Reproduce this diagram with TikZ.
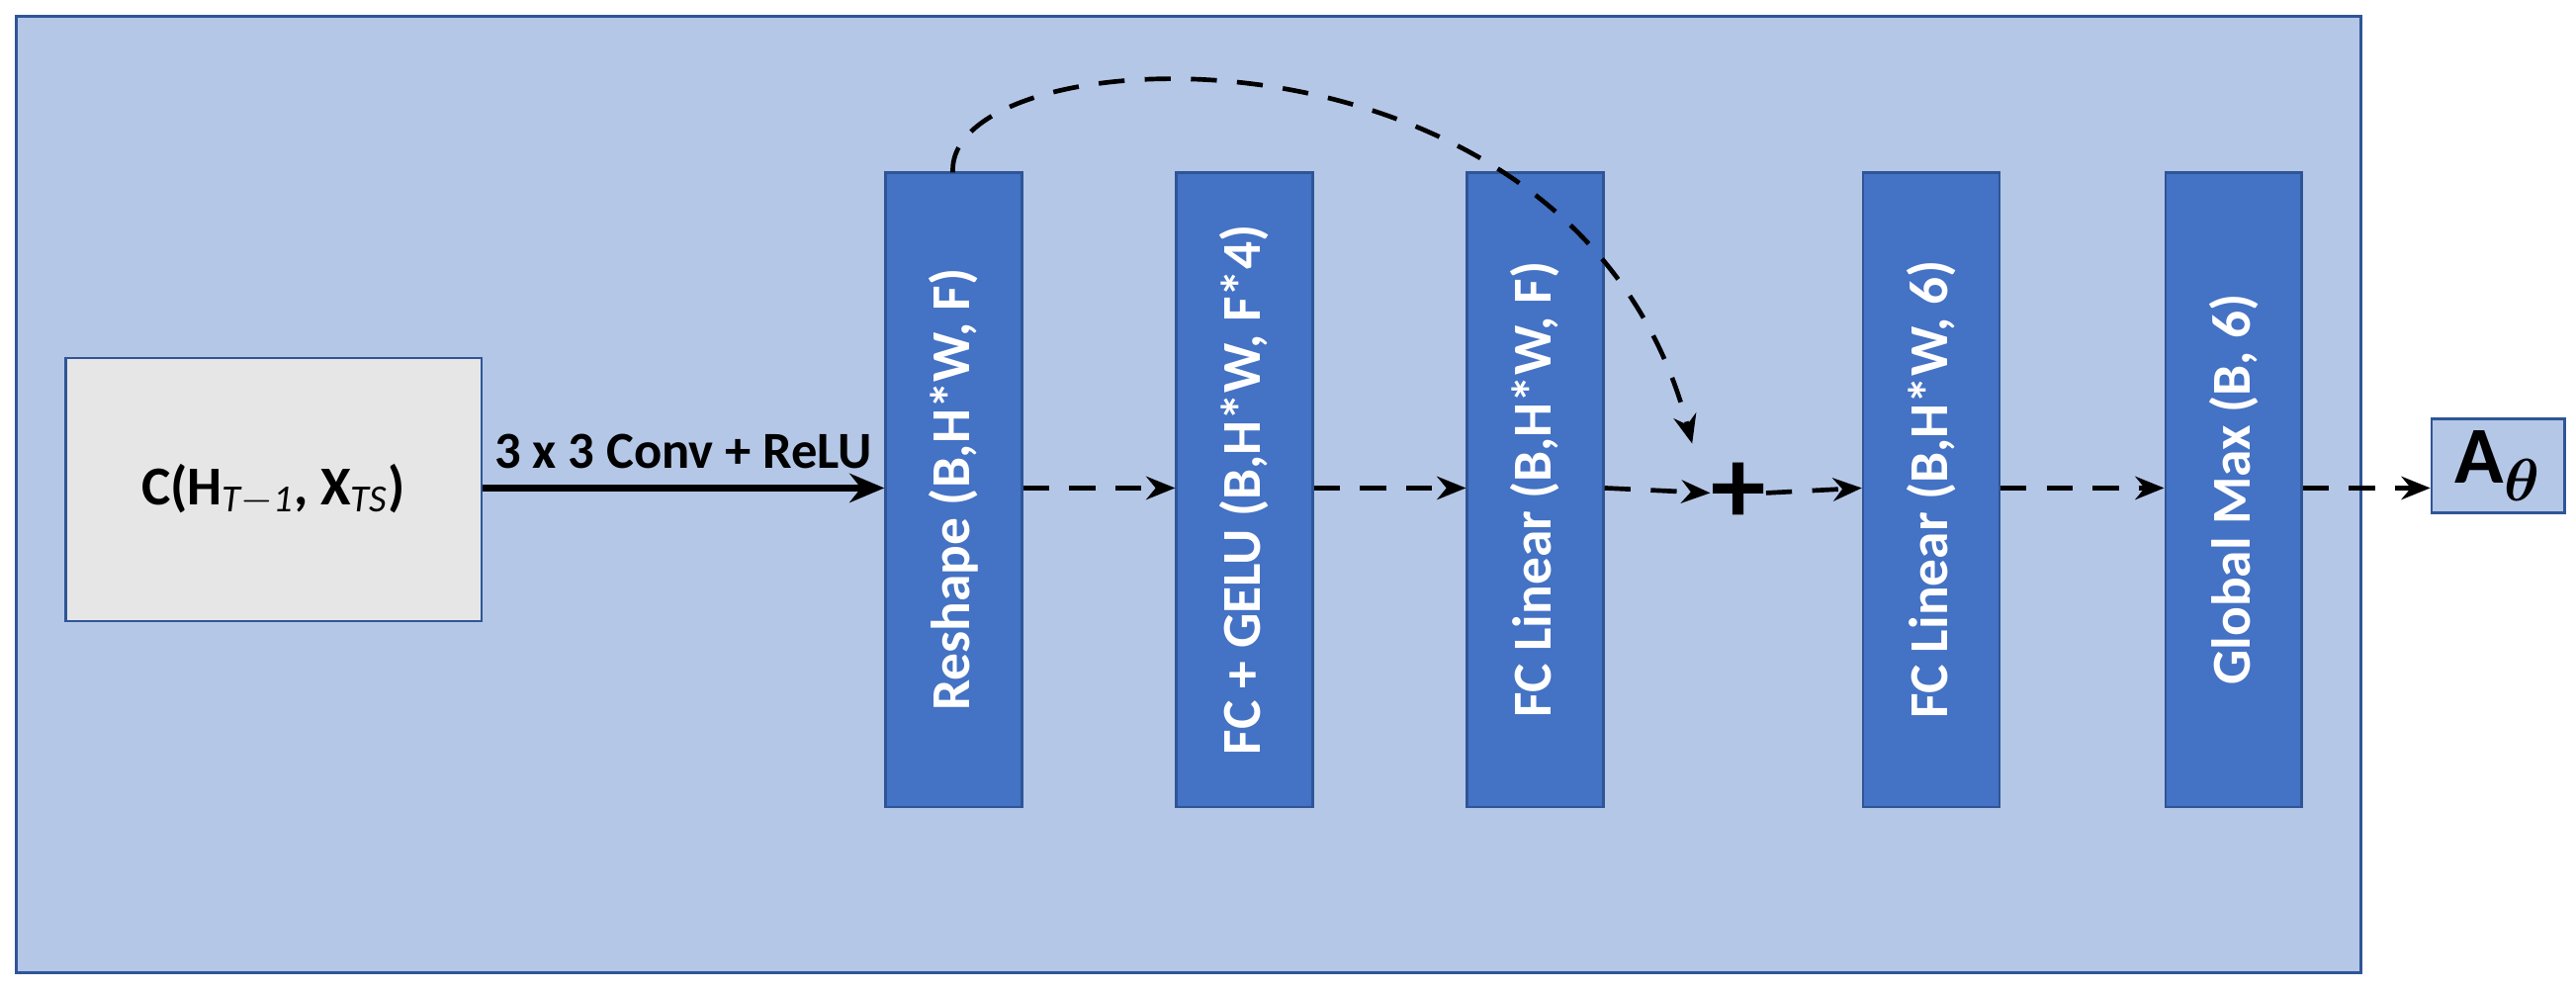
\documentclass[tikz,border=0pt]{standalone}
\usepackage{amsmath,bm}
\usepackage{fontspec}
\setmainfont{Carlito}
\usetikzlibrary{arrows.meta}
\definecolor{bgblue}{HTML}{B4C7E7}
\definecolor{edge}{HTML}{2F5597}
\definecolor{bar}{HTML}{4472C4}
\definecolor{grayfill}{HTML}{E7E6E6}
\begin{document}
\begin{tikzpicture}[x=0.02cm,y=-0.02cm,
  barbox/.style={draw=edge,fill=bar,line width=0.8pt},
  bartext/.style={text=white,font=\fontsize{19}{22}\selectfont\bfseries,rotate=90},
  flow/.style={dashed,line width=1.6pt,dash pattern=on 9pt off 7pt,-{Stealth[length=10pt,width=8pt]}}]
\useasboundingbox (0,0) rectangle (1568,603);
\fill[white] (0,0) rectangle (1568,603);
\draw[draw=edge,fill=bgblue,line width=0.8pt] (10,10) rectangle (1437,592);
\node[draw=edge,fill=grayfill,line width=0.8pt,minimum width=253*0.02cm,minimum height=160*0.02cm,font=\fontsize{19}{22}\selectfont\bfseries] (in) at (166.5,298) {C(H$_{\mathit{T-1}}$, X$_{\mathit{TS}}$)};
\foreach \n/\x/\t in {r/580.5/{Reshape (B,H*W, F)},g/757.5/{FC + GELU (B,H*W, F*4)},l/934.5/{FC Linear (B,H*W, F)},l6/1175.5/{FC Linear (B,H*W, 6)},m/1359.5/{Global Max (B, 6)}}{
  \node[barbox,minimum width=83*0.02cm,minimum height=386*0.02cm,inner sep=0] (\n) at (\x,298) {};
  \node[bartext] at (\x,298) {\t};
}
\node[draw=edge,fill=bgblue,line width=0.8pt,minimum width=81*0.02cm,minimum height=57*0.02cm,inner sep=0,font=\fontsize{28}{30}\selectfont\bfseries] (a) at (1520.5,283.5) {A$_{\bm{\theta}}$};
\node[font=\fontsize{38}{40}\selectfont\bfseries,inner sep=0] (p) at (1058,300) {+};
\draw[line width=2.6pt,-{Stealth[length=12pt,width=10pt]}] (in.east |- 0,297) -- node[above,font=\fontsize{18}{20}\selectfont\bfseries,yshift=2pt]{3 x 3 Conv + ReLU} (r.west |- 0,297);
\draw[flow] (r.east |- 0,297) -- (g.west |- 0,297);
\draw[flow] (g.east |- 0,297) -- (l.west |- 0,297);
\draw[flow] (l.east |- 0,297) -- (p.west);
\draw[flow] (p.east) -- (l6.west |- 0,297);
\draw[flow] (l6.east |- 0,297) -- (m.west |- 0,297);
\draw[flow] (m.east |- 0,297) -- (a.west |- 0,297);
\coordinate (top) at (580,105);
\draw[flow] (top) .. controls (575,20) and (960,0) .. (1030,270);
\end{tikzpicture}
\end{document}
